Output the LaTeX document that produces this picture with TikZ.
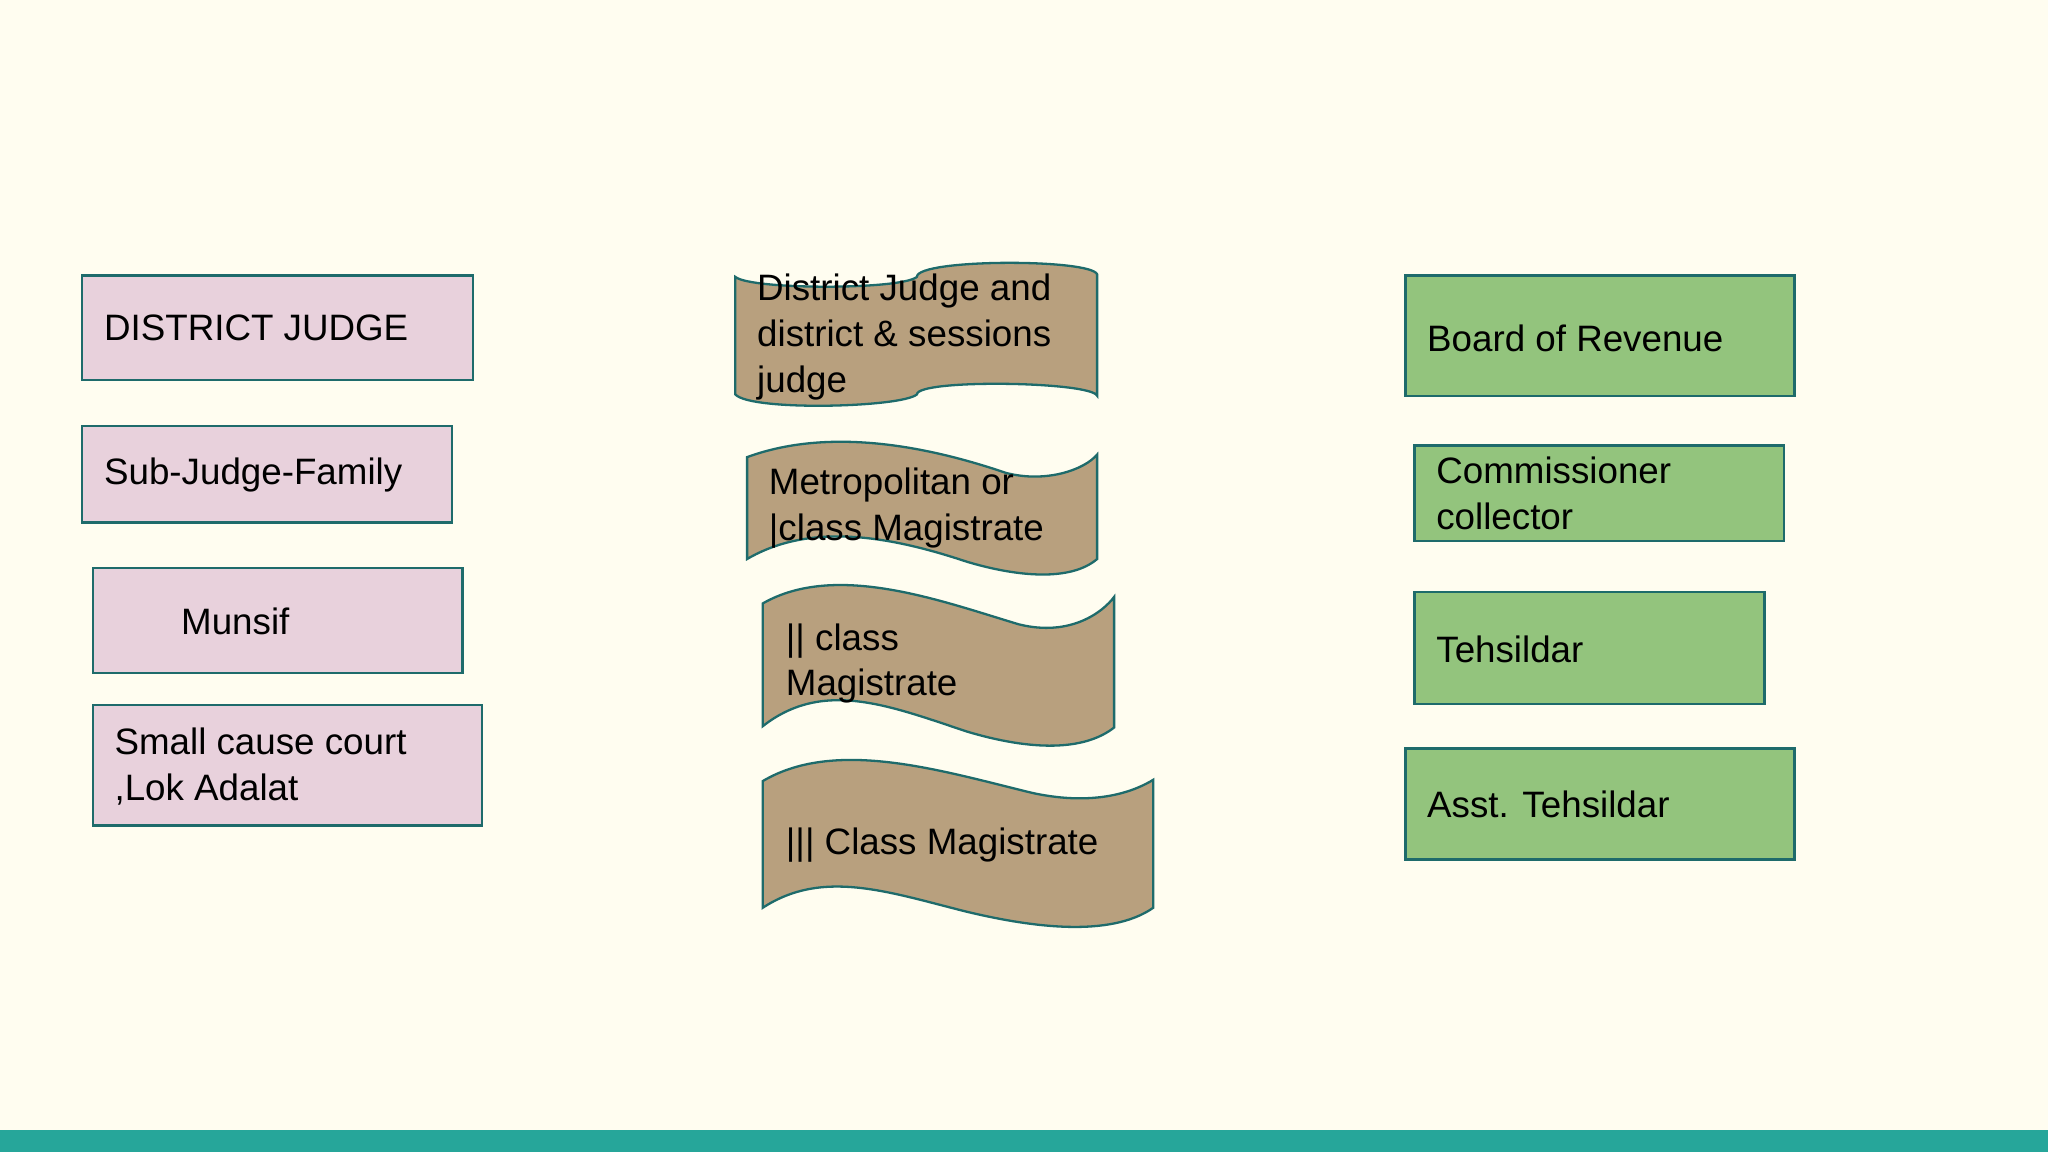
\documentclass[tikz,border=0pt]{standalone}
\usepackage{fontspec}
\setmainfont{Liberation Sans}
\definecolor{bg}{HTML}{FFFDF0}
\definecolor{bar}{HTML}{26A69A}
\definecolor{edge}{HTML}{1E6B6B}
\definecolor{pinkf}{HTML}{E8D1DC}
\definecolor{brownf}{HTML}{B8A07E}
\definecolor{greenf}{HTML}{93C47D}
\begin{document}
\begin{tikzpicture}[x=0.01cm,y=-0.01cm,
  pbox/.style={draw=edge,fill=pinkf,line width=0.5pt},
  gbox/.style={draw=edge,fill=greenf,line width=0.5pt},
  wave/.style={draw=edge,fill=brownf,line width=0.5pt},
  lbl/.style={anchor=west,font=\fontsize{8}{10}\selectfont,align=left,inner sep=0pt}]
\fill[bg] (0,0) rectangle (1568,882);
\useasboundingbox (0,0) rectangle (1568,882);
\fill[bar] (0,865) rectangle (1568,882);
% left
\draw[pbox] (63,211) rectangle (362,291);
\node[lbl] (a1) at (79,251) {DISTRICT JUDGE};
\draw[pbox] (63,326) rectangle (346,400);
\node[lbl] (a2) at (79,364) {Sub-Judge-Family};
\draw[pbox] (71,435) rectangle (354,515);
\node[lbl] (a3) at (138,476) {Munsif};
\draw[pbox] (71,540) rectangle (369,632);
\node[lbl] (a4) at (87,587) {Small cause court\\,Lok Adalat};
% middle waves
\draw[wave] (563,212) .. controls (575,222) and (690,222) .. (702,212)
  .. controls (702,198) and (835,198) .. (840,210) -- (840,303)
  .. controls (835,292) and (702,290) .. (702,302)
  .. controls (690,312) and (575,315) .. (563,302) -- cycle;
\node[lbl] (b1) at (579,258) {District Judge and\\district \& sessions\\judge};
\draw[wave] (572,350) .. controls (640,325) and (720,345) .. (770,362)
  .. controls (800,370) and (830,360) .. (840,348) -- (840,428)
  .. controls (820,445) and (780,442) .. (740,430)
  .. controls (680,410) and (620,400) .. (572,428) -- cycle;
\node[lbl] (b2) at (588,389) {Metropolitan or\\|class Magistrate};
\draw[wave] (584,462) .. controls (640,430) and (720,460) .. (780,478)
  .. controls (820,488) and (845,468) .. (853,457) -- (853,557)
  .. controls (830,575) and (790,575) .. (740,560)
  .. controls (680,540) and (630,520) .. (584,556) -- cycle;
\node[lbl] (b3) at (601,508) {|| class\\Magistrate};
\draw[wave] (584,598) .. controls (640,565) and (720,590) .. (790,607)
  .. controls (840,618) and (870,605) .. (883,597) -- (883,695)
  .. controls (850,718) and (790,710) .. (740,698)
  .. controls (680,683) and (630,665) .. (584,695) -- cycle;
\node[lbl] (b4) at (601,647) {||| Class Magistrate};
% right
\draw[gbox] (1076,211) rectangle (1374,303);
\node[lbl] (c1) at (1092,259) {Board of Revenue};
\draw[gbox] (1083,341) rectangle (1366,414);
\node[lbl] (c2) at (1099,378) {Commissioner\\collector};
\draw[gbox] (1083,453) rectangle (1351,539);
\node[lbl] (c3) at (1099,497) {Tehsildar};
\draw[gbox] (1076,573) rectangle (1374,658);
\node[lbl] (c4) at (1092,616) {Asst. Tehsildar};
\end{tikzpicture}
\end{document}
